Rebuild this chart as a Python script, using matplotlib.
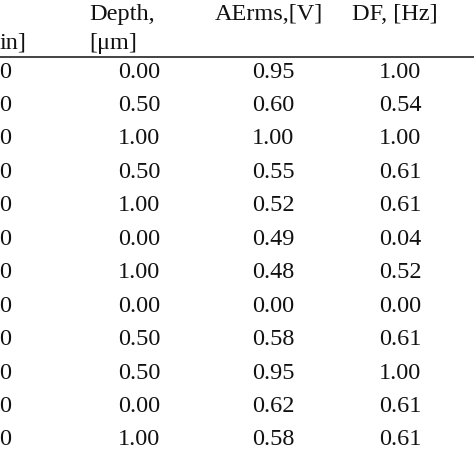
import matplotlib
matplotlib.use("Agg")
import matplotlib.pyplot as plt

time_col = ["0"] * 12
depth = ["0.00", "0.50", "1.00", "0.50", "1.00", "0.00", "1.00", "0.00", "0.50", "0.50", "0.00", "1.00"]
aerms = ["0.95", "0.60", "1.00", "0.55", "0.52", "0.49", "0.48", "0.00", "0.58", "0.95", "0.62", "0.58"]
df = ["1.00", "0.54", "1.00", "0.61", "0.61", "0.04", "0.52", "0.00", "0.61", "1.00", "0.61", "0.61"]

W = H = 474
fig = plt.figure(figsize=(4.74, 4.74), dpi=100)
ax = fig.add_axes([0, 0, 1, 1])
ax.set_xlim(0, W)
ax.set_ylim(H, 0)
ax.axis("off")
fs = 17.5
kw = dict(family="Liberation Serif", fontsize=fs, color="#111111", va="center")

ax.text(89, 14, "Depth,", ha="left", **kw)
ax.text(89, 43, "[μm]", ha="left", **kw)
ax.text(215, 14, "AErms,[V]", ha="left", **kw)
ax.text(352, 14, "DF, [Hz]", ha="left", **kw)
ax.text(0, 43, "in]", ha="left", **kw)
ax.plot([0, W], [57, 57], color="#222222", lw=1.2)

y0, dy = 72, 33.45
for i in range(len(depth)):
    y = y0 + i * dy
    ax.text(11, y, time_col[i], ha="right", **kw)
    ax.text(139, y, depth[i], ha="center", **kw)
    ax.text(273, y, aerms[i], ha="center", **kw)
    ax.text(400, y, df[i], ha="center", **kw)

fig.savefig("out.png", dpi=100, facecolor="white")
